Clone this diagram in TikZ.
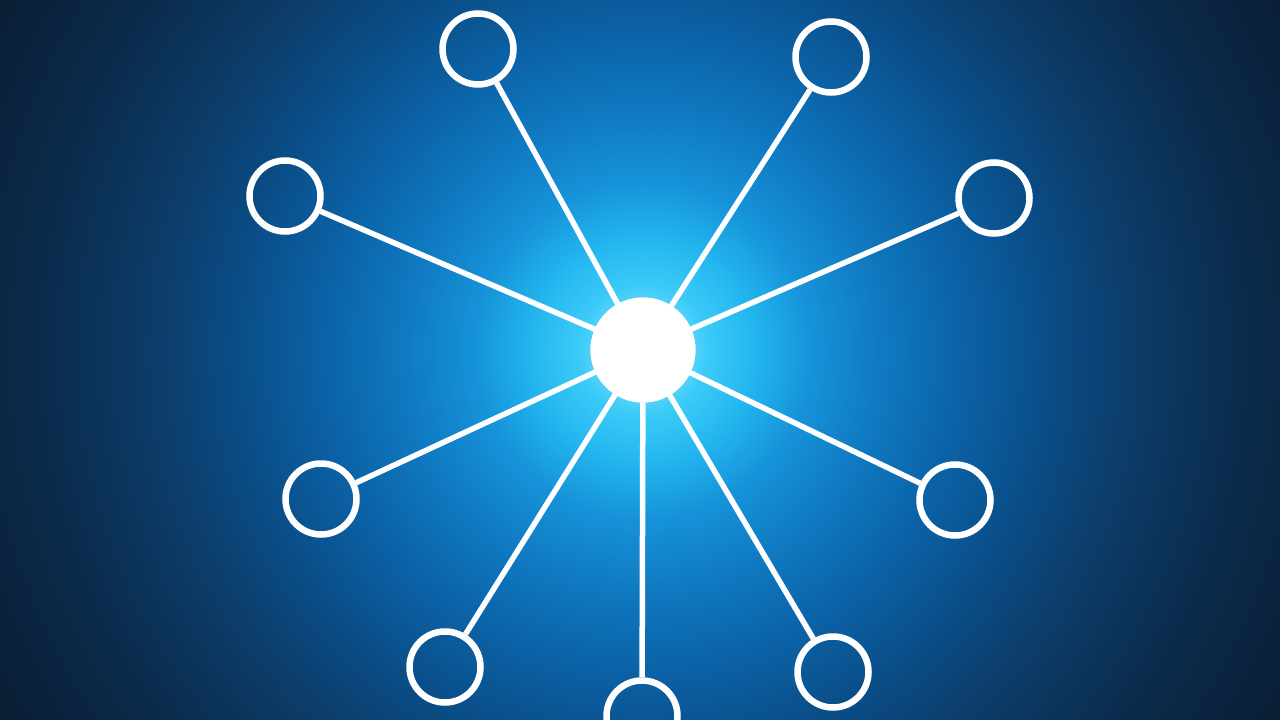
\documentclass[tikz,border=0pt]{standalone}
\usetikzlibrary{shadings}
\definecolor{g0}{HTML}{B0F0FF}
\definecolor{g1}{HTML}{3CCBF8}
\definecolor{g2}{HTML}{22B4EE}
\definecolor{g3}{HTML}{1692D8}
\definecolor{g4}{HTML}{0F78C0}
\definecolor{g5}{HTML}{0B62A6}
\definecolor{g6}{HTML}{0A4C86}
\definecolor{g7}{HTML}{0C3D6A}
\definecolor{g8}{HTML}{0B2A4A}
\definecolor{g9}{HTML}{0A1E34}
\pgfdeclareradialshading{glow}{\pgfpoint{0bp}{0bp}}{%
  color(0bp)=(g0); color(2bp)=(g1); color(3.6bp)=(g2); color(5.3bp)=(g3);
  color(7.6bp)=(g4); color(10bp)=(g5); color(12.8bp)=(g6); color(15.2bp)=(g7);
  color(19.06bp)=(g8); color(23.1bp)=(g9); color(50bp)=(g9)}
\tikzset{
  leaf/.style={circle, draw=white, line width=6.5pt, minimum size=71pt, inner sep=0pt},
  hub/.style={circle, fill=white, draw=white, line width=1pt, minimum size=104pt, inner sep=0pt},
  spoke/.style={draw=white, line width=5.5pt}
}
\begin{document}
\begin{tikzpicture}[x=1pt,y=-1pt]
\useasboundingbox (0,0) rectangle (1280,720);
\begin{scope}
\clip (0,0) rectangle (1280,720);
\shade[shading=glow] (643,350) circle[radius=800pt];
\end{scope}
\node[hub] (c) at (643,350) {};
\node[leaf] (n1) at (478,49) {};
\node[leaf] (n2) at (831,57) {};
\node[leaf] (n3) at (285,196) {};
\node[leaf] (n4) at (994,198) {};
\node[leaf] (n5) at (321,499) {};
\node[leaf] (n6) at (955,500) {};
\node[leaf] (n7) at (445,667) {};
\node[leaf] (n8) at (833,672) {};
\node[leaf] (n9) at (642,716) {};
\foreach \i in {1,...,9} {\draw[spoke] (c) -- (n\i);}
\node[hub] at (c) {};
\end{tikzpicture}
\end{document}
